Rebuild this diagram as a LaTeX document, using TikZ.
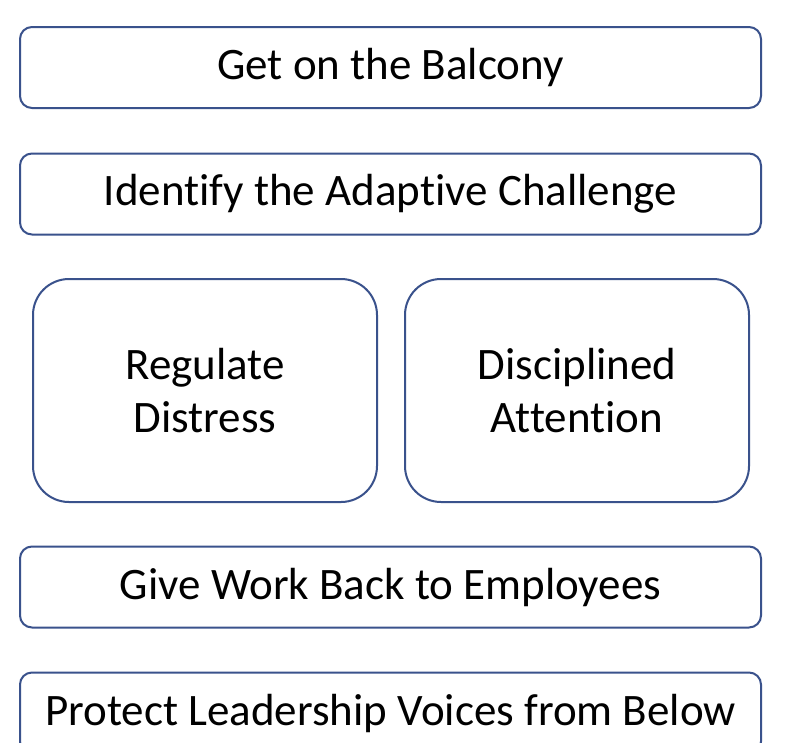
\documentclass[tikz,border=0pt]{standalone}
\usepackage{fontspec}
\setmainfont[RawFeature={-liga;-clig;-dlig}]{Carlito}
\definecolor{boxline}{RGB}{58,82,140}
\begin{document}
\begin{tikzpicture}[x=1pt,y=1pt,
  wide/.style={draw=boxline,line width=2pt,rounded corners=12pt,minimum width=741pt,minimum height=81pt,inner sep=0pt,font=\fontsize{45}{52}\selectfont,text=black},
  tall/.style={draw=boxline,line width=2pt,rounded corners=36pt,minimum width=344pt,minimum height=223pt,inner sep=0pt,align=center,font=\fontsize{45}{53}\selectfont,text=black}]
\useasboundingbox (0,0) rectangle (791,-742);
\clip (0,0) rectangle (791,-742);
\fill[white] (0,0) rectangle (791,-742);
\node[wide] (b1) at (390.5,-67.5) {Get on the Balcony};
\node[wide] (b2) at (390.5,-194) {Identify the Adaptive Challenge};
\node[tall] (b3) at (205,-390.5) {Regulate\\Distress};
\node[tall] (b4) at (577,-390.5) {Disciplined\\Attention};
\node[wide] (b5) at (390.5,-587) {Give Work Back to Employees};
\node[wide] (b6) at (390.5,-713) {Protect Leadership Voices from Below};
\end{tikzpicture}
\end{document}
